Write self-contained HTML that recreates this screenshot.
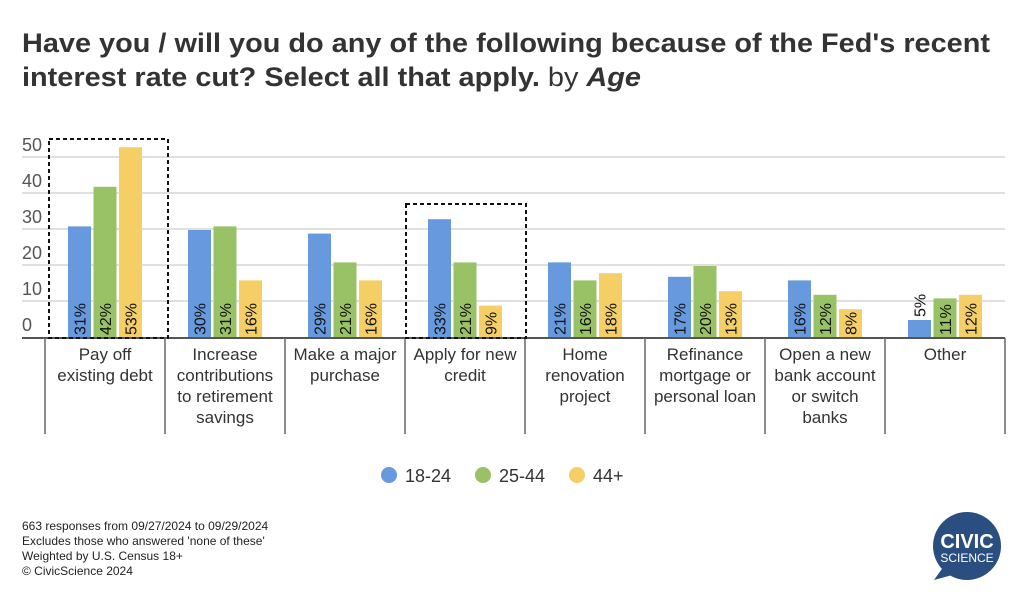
<!DOCTYPE html>
<html><head><meta charset="utf-8"><style>
body{margin:0;background:#fff;font-family:"Liberation Sans",Arial,sans-serif}
</style></head><body>
<svg width="1024" height="606" xmlns="http://www.w3.org/2000/svg" font-family="Liberation Sans, Arial, sans-serif">
<text x="22" y="52" font-size="27" font-weight="bold" fill="#333" textLength="968" lengthAdjust="spacingAndGlyphs">Have you / will you do any of the following because of the Fed's recent</text>
<text x="22" y="86" font-size="27" font-weight="bold" fill="#333" textLength="619" lengthAdjust="spacingAndGlyphs">interest rate cut? Select all that apply. <tspan font-weight="normal">by </tspan><tspan font-style="italic">Age</tspan></text>
<g stroke="#e0e0e0" stroke-width="2">
<line x1="22" x2="1005" y1="157" y2="157"/><line x1="22" x2="1005" y1="193" y2="193"/>
<line x1="22" x2="1005" y1="229" y2="229"/><line x1="22" x2="1005" y1="265" y2="265"/>
<line x1="22" x2="1005" y1="301" y2="301"/></g>
<g font-size="18" fill="#555">
<text x="22" y="151">50</text><text x="22" y="187">40</text><text x="22" y="223">30</text>
<text x="22" y="259">20</text><text x="22" y="295">10</text><text x="22" y="331">0</text></g>
<g>
<rect x="68" y="226.4" width="23" height="111.6" fill="#6699dd"/>
<rect x="93.5" y="186.8" width="23" height="151.2" fill="#99c266"/>
<rect x="119" y="147.2" width="23" height="190.8" fill="#f5cf66"/>
<rect x="188" y="230" width="23" height="108" fill="#6699dd"/>
<rect x="213.5" y="226.4" width="23" height="111.6" fill="#99c266"/>
<rect x="239" y="280.4" width="23" height="57.6" fill="#f5cf66"/>
<rect x="308" y="233.6" width="23" height="104.4" fill="#6699dd"/>
<rect x="333.5" y="262.4" width="23" height="75.6" fill="#99c266"/>
<rect x="359" y="280.4" width="23" height="57.6" fill="#f5cf66"/>
<rect x="428" y="219.2" width="23" height="118.8" fill="#6699dd"/>
<rect x="453.5" y="262.4" width="23" height="75.6" fill="#99c266"/>
<rect x="479" y="305.6" width="23" height="32.4" fill="#f5cf66"/>
<rect x="548" y="262.4" width="23" height="75.6" fill="#6699dd"/>
<rect x="573.5" y="280.4" width="23" height="57.6" fill="#99c266"/>
<rect x="599" y="273.2" width="23" height="64.8" fill="#f5cf66"/>
<rect x="668" y="276.8" width="23" height="61.2" fill="#6699dd"/>
<rect x="693.5" y="266" width="23" height="72" fill="#99c266"/>
<rect x="719" y="291.2" width="23" height="46.8" fill="#f5cf66"/>
<rect x="788" y="280.4" width="23" height="57.6" fill="#6699dd"/>
<rect x="813.5" y="294.8" width="23" height="43.2" fill="#99c266"/>
<rect x="839" y="309.2" width="23" height="28.8" fill="#f5cf66"/>
<rect x="908" y="320" width="23" height="18" fill="#6699dd"/>
<rect x="933.5" y="298.4" width="23" height="39.6" fill="#99c266"/>
<rect x="959" y="294.8" width="23" height="43.2" fill="#f5cf66"/>
</g>
<g font-size="16" fill="#111">
<text transform="translate(85.5,335) rotate(-90)">31%</text>
<text transform="translate(111,335) rotate(-90)">42%</text>
<text transform="translate(136.5,335) rotate(-90)">53%</text>
<text transform="translate(205.5,335) rotate(-90)">30%</text>
<text transform="translate(231,335) rotate(-90)">31%</text>
<text transform="translate(256.5,335) rotate(-90)">16%</text>
<text transform="translate(325.5,335) rotate(-90)">29%</text>
<text transform="translate(351,335) rotate(-90)">21%</text>
<text transform="translate(376.5,335) rotate(-90)">16%</text>
<text transform="translate(445.5,335) rotate(-90)">33%</text>
<text transform="translate(471,335) rotate(-90)">21%</text>
<text transform="translate(496.5,335) rotate(-90)">9%</text>
<text transform="translate(565.5,335) rotate(-90)">21%</text>
<text transform="translate(591,335) rotate(-90)">16%</text>
<text transform="translate(616.5,335) rotate(-90)">18%</text>
<text transform="translate(685.5,335) rotate(-90)">17%</text>
<text transform="translate(711,335) rotate(-90)">20%</text>
<text transform="translate(736.5,335) rotate(-90)">13%</text>
<text transform="translate(805.5,335) rotate(-90)">16%</text>
<text transform="translate(831,335) rotate(-90)">12%</text>
<text transform="translate(856.5,335) rotate(-90)">8%</text>
<text transform="translate(925.5,317) rotate(-90)">5%</text>
<text transform="translate(951,335) rotate(-90)">11%</text>
<text transform="translate(976.5,335) rotate(-90)">12%</text>
</g>
<line x1="22" x2="1005" y1="338" y2="338" stroke="#555" stroke-width="2"/>
<g stroke="#666" stroke-width="1.5">
<line x1="45" x2="45" y1="338" y2="434"/><line x1="165" x2="165" y1="338" y2="434"/>
<line x1="285" x2="285" y1="338" y2="434"/><line x1="405" x2="405" y1="338" y2="434"/>
<line x1="525" x2="525" y1="338" y2="434"/><line x1="645" x2="645" y1="338" y2="434"/>
<line x1="765" x2="765" y1="338" y2="434"/><line x1="885" x2="885" y1="338" y2="434"/>
<line x1="1005" x2="1005" y1="338" y2="434"/></g>
<g fill="none" stroke="#111" stroke-width="2" stroke-dasharray="4,3">
<rect x="49" y="139" width="119" height="199"/><rect x="406" y="204" width="120" height="134"/></g>
<g font-size="17" fill="#333" text-anchor="middle">
<text x="105" y="360">Pay off</text><text x="105" y="381">existing debt</text>
<text x="225" y="360">Increase</text><text x="225" y="381">contributions</text><text x="225" y="402">to retirement</text><text x="225" y="423">savings</text>
<text x="345" y="360">Make a major</text><text x="345" y="381">purchase</text>
<text x="465" y="360">Apply for new</text><text x="465" y="381">credit</text>
<text x="585" y="360">Home</text><text x="585" y="381">renovation</text><text x="585" y="402">project</text>
<text x="705" y="360">Refinance</text><text x="705" y="381">mortgage or</text><text x="705" y="402">personal loan</text>
<text x="825" y="360">Open a new</text><text x="825" y="381">bank account</text><text x="825" y="402">or switch</text><text x="825" y="423">banks</text>
<text x="945" y="360">Other</text></g>
<circle cx="389" cy="475" r="8" fill="#6699dd"/><text x="405" y="482" font-size="18" fill="#333">18-24</text>
<circle cx="483" cy="475" r="8" fill="#99c266"/><text x="499" y="482" font-size="18" fill="#333">25-44</text>
<circle cx="577" cy="475" r="8" fill="#f5cf66"/><text x="593" y="482" font-size="18" fill="#333">44+</text>
<g font-size="12" fill="#222">
<text x="22" y="530">663 responses from 09/27/2024 to 09/29/2024</text>
<text x="22" y="545">Excludes those who answered 'none of these'</text>
<text x="22" y="560">Weighted by U.S. Census 18+</text>
<text x="22" y="575">© CivicScience 2024</text></g>
<circle cx="967" cy="546" r="34" fill="#2a4e7f"/>
<polygon points="934,580 944,566 956,574" fill="#2a4e7f"/>
<text x="967" y="548" font-size="20" fill="#fff" text-anchor="middle" font-weight="bold">CIVIC</text>
<text x="967" y="562" font-size="12" fill="#fff" text-anchor="middle">SCIENCE</text>
</svg>
</body></html>
